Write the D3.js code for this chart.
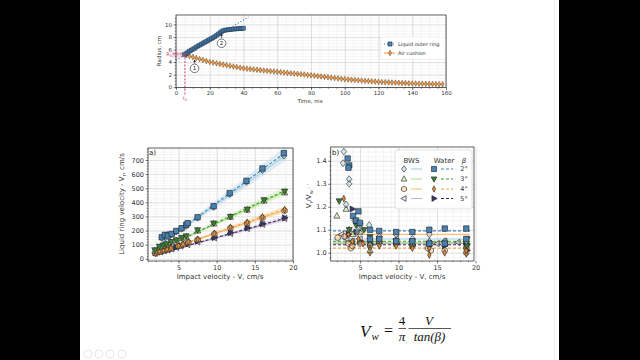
<!DOCTYPE html>
<html><head><meta charset="utf-8">
<script src="https://cdn.jsdelivr.net/npm/d3@7"></script>
<style>html,body{margin:0;padding:0;background:#000;overflow:hidden}svg{display:block}</style>
</head><body>
<svg id="c" width="640" height="360"></svg>
<script>
// ---------------- DATA ----------------
// Top chart: liquid outer ring radius and air cushion radius vs time
const ringT = [5,6,7,8,9,10,11,12,13,14,15,16,17,18,19,20,21,22,23,24,25,26,27,28,29,30,31,32,33,34,35,36,37,38,39,40];
const ringR = [5.20,5.35,5.55,5.75,5.90,6.05,6.20,6.40,6.55,6.70,6.85,7.00,7.15,7.30,7.45,7.60,7.75,7.90,8.05,8.25,8.45,8.65,8.85,9.00,9.08,9.12,9.16,9.20,9.22,9.25,9.28,9.30,9.32,9.34,9.36,9.38];
const ringFitT = [0, 43];
const ringFitR = [4.3, 11.2];
const airT = [6,8,10,12,14,16,18,20,22,24,26,28,30,32,34,36,38,40,42,44,46,48,50,52,54,56,58,60,62,64,66,68,70,72,74,76,78,80,82,84,86,88,90,92,94,96,98,100,102,104,106,108,110,112,114,116,118,120,122,124,126,128,130,132,134,136,138,140,142,144,146,148,150,152,154,156,158];
const airR = [5.10,4.95,4.80,4.64,4.49,4.35,4.17,4.02,3.92,3.81,3.70,3.60,3.50,3.40,3.30,3.20,3.10,3.00,2.95,2.89,2.83,2.78,2.72,2.66,2.61,2.55,2.50,2.44,2.39,2.33,2.28,2.22,2.17,2.12,2.06,2.01,1.95,1.90,1.84,1.77,1.71,1.65,1.59,1.52,1.46,1.40,1.34,1.28,1.23,1.19,1.14,1.10,1.06,1.02,0.98,0.93,0.89,0.85,0.82,0.80,0.77,0.74,0.72,0.69,0.66,0.64,0.61,0.59,0.58,0.56,0.55,0.53,0.52,0.50,0.49,0.47,0.46];
const t0 = 5.3, R0 = 5.3;
const annT = [11, 27], annR = [3.0, 7.0], annTip = [4.4, 8.6], annLabel = ["1", "2"];
const topXTicks = [0,20,40,60,80,100,120,140,160];
const topYTicks = [0,2,4,6,8,10];

// Chart a: liquid ring velocity vs impact velocity
const betaLabels = ["2°","3°","4°","5°"];
const a2V = [2.8,3.2,3.6,4.1,4.7,5.4,6.0,6.2,7.5,9.6,11.7,13.9,16.0,18.8];
const a2Water = [152,169,164,176,197,216,240,252,294,372,465,552,640,748];
const a2BWS = [148,160,170,172,192,212,232,246,290,366,458,545,628,730];
const a3V = [1.9,2.5,3.0,3.4,4.0,4.7,5.4,6.0,7.5,9.6,11.8,14.0,16.2,18.9];
const a3Water = [62,88,95,105,121,133,150,161,204,252,299,350,417,478];
const a3BWS = [56,80,90,100,115,128,142,155,198,248,296,346,410,468];
const a4V = [2.0,2.5,3.0,3.5,4.0,5.0,5.6,6.3,7.5,9.7,11.8,14.0,16.0,18.9];
const a4Water = [40,52,62,68,76,92,103,121,138,180,223,258,296,348];
const a4BWS = [38,48,58,65,72,90,100,116,135,176,218,252,290,340];
const a5V = [2.0,2.6,3.1,3.6,4.1,4.7,5.3,6.2,7.5,9.7,11.8,14.0,16.0,18.9];
const a5Water = [42,50,58,65,72,82,92,105,125,150,185,218,248,290];
const a5BWS = [40,48,56,62,70,80,90,100,120,148,180,214,244,286];
const aFitV = [1.6, 19.2];
const aSlopeWater = [39.6, 25.5, 18.6, 15.1];
const aSlopeBWS = [38.5, 25.0, 18.2, 14.8];
const aBandLo = [36.5, 23.8, 17.3, 14.0];
const aBandHi = [41.8, 26.9, 19.6, 15.9];
const aXTicks = [5,10,15,20];
const aYTicks = [0,100,200,300,400,500,600,700];

// Chart b: Vr/Vw vs impact velocity
const bBws2V = [2.9,2.8,3.6,3.6,3.2,4.3,4.6,5.0,6.2,6.3,7.5,9.7,11.8,14.0,16.0,18.8];
const bBws2R = [1.44,1.39,1.32,1.30,1.21,1.14,1.09,1.11,1.12,1.06,1.07,1.08,1.06,1.08,1.05,1.05];
const bWat2V = [3.4,3.6,3.5,4.1,4.8,4.5,5.0,6.3,6.3,7.5,7.5,9.7,9.7,11.8,11.8,14.0,14.0,16.0,16.0,18.8,18.8];
const bWat2R = [1.41,1.38,1.37,1.16,1.18,1.14,1.13,1.10,1.06,1.095,1.06,1.09,1.05,1.09,1.05,1.10,1.04,1.105,1.04,1.105,1.06];
const bBws3V = [2.0,3.2,3.6,4.1,5.0,6.3,6.3,7.5,9.7,11.8,14.0,16.0,18.8];
const bBws3R = [1.16,1.19,1.10,1.08,1.09,1.01,1.04,1.05,1.05,1.04,1.05,1.04,1.05];
const bWat3V = [2.3,3.6,4.5,5.0,5.5,6.3,7.5,9.7,11.8,14.0,16.0,18.9,18.9];
const bWat3R = [1.225,1.10,1.12,1.12,1.10,1.07,1.06,1.05,1.05,1.04,1.04,1.06,1.03];
const bBws4V = [2.1,3.0,3.5,3.8,4.0,5.0,6.3,7.5,9.7,11.8,13.8,14.2,16.0,18.8,18.8];
const bBws4R = [1.065,1.07,1.04,1.02,1.03,1.04,1.03,1.04,1.04,1.03,1.02,1.01,1.01,1.00,1.02];
const bWat4V = [2.9,3.5,4.0,4.8,5.4,6.3,6.3,7.5,9.7,11.8,14.0,14.0,16.0,18.8,18.8];
const bWat4R = [1.235,1.08,1.05,1.06,1.04,1.02,1.00,1.03,1.03,1.02,0.99,1.02,1.00,0.995,1.01];
const bBws5V = [2.6,3.3,4.0,5.0,6.3,7.5,9.7,11.8,14.0,15.0,16.0,17.7,18.8];
const bBws5R = [1.08,1.06,1.05,1.06,1.05,1.06,1.06,1.05,1.04,1.04,1.05,1.045,1.04];
const bWat5V = [4.0,3.5,4.5,5.0,6.3,7.5,9.7,11.8,14.0,16.0,18.8,18.9];
const bWat5R = [1.19,1.08,1.09,1.05,1.04,1.05,1.04,1.03,1.03,1.03,1.03,1.01];
const bFitV = [1.5, 19.3];
const bMeanWater = [1.095, 1.05, 1.02, 1.035];
const bMeanBWS = [1.06, 1.045, 1.08, 1.04];
const bXTicks = [5,10,15,20];
const bYTicks = [1.0,1.1,1.2,1.3,1.4];

// ---------------- STYLE ----------------
const FONT = "DejaVu Sans, sans-serif";
const styles = [
  {bws:"diamond", wat:"square", light:"#a6cee3", dark:"#4a82b4", line:"#3a86c0"},
  {bws:"up",      wat:"down",   light:"#b2df8a", dark:"#3f7d36", line:"#33a02c"},
  {bws:"hex",     wat:"thin",   light:"#fdbf6f", dark:"#e8893a", line:"#f2a24f"},
  {bws:"left",    wat:"right",  light:"#cab2d6", dark:"#3b3572", line:"#2b2b50"}
];

function shape(type, s) {
  let p;
  switch (type) {
    case "diamond": p = [[0,-s],[s*0.8,0],[0,s],[-s*0.8,0]]; break;
    case "thin": p = [[0,-s],[s*0.5,0],[0,s],[-s*0.5,0]]; break;
    case "square": { const q = s*0.8; p = [[-q,-q],[q,-q],[q,q],[-q,q]]; break; }
    case "up": p = [[0,-s],[s*0.9,s*0.65],[-s*0.9,s*0.65]]; break;
    case "down": p = [[0,s],[s*0.9,-s*0.65],[-s*0.9,-s*0.65]]; break;
    case "left": p = [[-s,0],[s*0.65,-s*0.9],[s*0.65,s*0.9]]; break;
    case "right": p = [[s,0],[-s*0.65,-s*0.9],[-s*0.65,s*0.9]]; break;
    case "hex": p = d3.range(6).map(i => [s*0.9*Math.sin(i*Math.PI/3), -s*0.9*Math.cos(i*Math.PI/3)]); break;
  }
  return "M" + p.map(d => d.map(v => v.toFixed(2)).join(",")).join("L") + "Z";
}

const svg = d3.select("#c");
svg.append("rect").attr("width",640).attr("height",360).attr("fill","#000");
svg.append("rect").attr("x",80).attr("y",0).attr("width",479).attr("height",360).attr("fill","#fff");
svg.append("line").attr("x1",554.5).attr("x2",554.5).attr("y1",0).attr("y2",360).attr("stroke","#f0f0f0");

function grid(g, x, y, c) {
  const [xl, xr] = x.range(), [yb, yt] = y.range();
  const w = xr - xl, h = yb - yt;
  const st = (col, sw) => s => { s.select(".domain").remove(); s.selectAll("line").attr("stroke", col).attr("stroke-width", sw); };
  g.append("g").attr("transform",`translate(0,${yb})`).call(d3.axisBottom(x).tickValues(c.xMinor).tickSize(-h).tickFormat("")).call(st("#ebebeb",0.5));
  g.append("g").attr("transform",`translate(${xl},0)`).call(d3.axisLeft(y).tickValues(c.yMinor).tickSize(-w).tickFormat("")).call(st("#ebebeb",0.5));
  g.append("g").attr("transform",`translate(0,${yb})`).call(d3.axisBottom(x).tickValues(c.xMajor).tickSize(-h).tickFormat("")).call(st("#d2d2d2",0.6));
  g.append("g").attr("transform",`translate(${xl},0)`).call(d3.axisLeft(y).tickValues(c.yMajor).tickSize(-w).tickFormat("")).call(st("#d2d2d2",0.6));
}
function axes(g, x, y, c) {
  const [xl, xr] = x.range(), [yb, yt] = y.range();
  g.append("rect").attr("x",xl).attr("y",yt).attr("width",xr-xl).attr("height",yb-yt).attr("fill","none").attr("stroke","#3a3a3a").attr("stroke-width",0.8);
  const st = s => { s.select(".domain").remove(); s.selectAll("line").attr("stroke","#3a3a3a").attr("stroke-width",0.6);
    s.selectAll("text").attr("font-size",c.fs).attr("font-family",FONT).attr("fill","#333"); };
  g.append("g").attr("transform",`translate(0,${yb})`).call(d3.axisBottom(x).tickValues(c.xMinor).tickSize(1.2).tickFormat("")).call(st);
  g.append("g").attr("transform",`translate(${xl},0)`).call(d3.axisLeft(y).tickValues(c.yMinor).tickSize(1.2).tickFormat("")).call(st);
  g.append("g").attr("transform",`translate(0,${yb})`).call(d3.axisBottom(x).tickValues(c.xMajor).tickSize(2.5).tickPadding(1.5).tickFormat(c.xFmt)).call(st);
  g.append("g").attr("transform",`translate(${xl},0)`).call(d3.axisLeft(y).tickValues(c.yMajor).tickSize(2.5).tickPadding(1.5).tickFormat(c.yFmt)).call(st);
}
function text(g, x, y, str, fs, opts = {}) {
  const t = g.append("text").attr("x",x).attr("y",y).attr("font-size",fs).attr("font-family",opts.family || FONT)
    .attr("fill",opts.fill || "#333").attr("text-anchor",opts.anchor || "middle").text(str);
  if (opts.rotate) t.attr("transform",`rotate(-90,${x},${y})`);
  if (opts.style) t.attr("font-style",opts.style);
  return t;
}

// ---------------- TOP CHART ----------------
{
  const x = d3.scaleLinear().domain([0,160]).range([176,446]);
  const y = d3.scaleLinear().domain([-0.05,11.5]).range([87.5,15]);
  const g = svg.append("g");
  grid(g, x, y, {xMinor:d3.range(0,161,5), yMinor:d3.range(0,11.5,0.5), xMajor:topXTicks, yMajor:topYTicks});
  // pink annotation region
  g.append("rect").attr("x",x(0)-4).attr("y",y(R0+0.35)).attr("width",x(t0)-x(0)+7).attr("height",y(R0-0.6)-y(R0+0.35))
    .attr("fill","#f6c3d2").attr("opacity",0.7);
  // ring fit dotted line
  g.append("line").attr("x1",x(ringFitT[0])).attr("y1",y(ringFitR[0])).attr("x2",x(ringFitT[1])).attr("y2",y(ringFitR[1]))
    .attr("stroke","#3a78b0").attr("stroke-width",1.1).attr("stroke-dasharray","1,2");
  // air cushion line + markers
  const airPts = airT.map((t,i)=>[t,airR[i]]);
  g.append("path").datum(airPts).attr("d",d3.line().x(d=>x(d[0])).y(d=>y(d[1]))).attr("fill","none").attr("stroke","#f2a24f").attr("stroke-width",1.2);
  g.append("g").selectAll("path").data(airPts).join("path")
    .attr("transform",d=>`translate(${x(d[0])},${y(d[1])})`).attr("d",shape("thin",2.8))
    .attr("fill","#f3a65a").attr("stroke","#5e3813").attr("stroke-width",0.5);
  // ring markers
  const ringPts = ringT.map((t,i)=>[t,ringR[i]]);
  g.append("g").selectAll("path").data(ringPts).join("path")
    .attr("transform",d=>`translate(${x(d[0])},${y(d[1])})`).attr("d",shape("square",2.4))
    .attr("fill","#4a7eab").attr("stroke","#1b2f47").attr("stroke-width",0.5);
  // t0 / R0 dashed lines
  g.append("line").attr("x1",x(0)-3).attr("x2",x(t0)).attr("y1",y(R0)).attr("y2",y(R0))
    .attr("stroke","#d2457a").attr("stroke-width",1).attr("stroke-dasharray","2,1.5");
  g.append("line").attr("x1",x(t0)).attr("x2",x(t0)).attr("y1",y(R0)).attr("y2",y(0)+9)
    .attr("stroke","#d2457a").attr("stroke-width",1).attr("stroke-dasharray","2,1.5");
  const r0t = text(g, x(0)-4, y(R0)+1.8, "R", 5, {anchor:"end", fill:"#d2457a"});
  r0t.append("tspan").attr("font-size",3.5).attr("dy",1).text("0");
  const t0t = text(g, x(t0), y(0)+13, "t", 5, {fill:"#c0506f"});
  t0t.append("tspan").attr("font-size",3.5).attr("dy",1).text("0");
  // annotations
  annT.forEach((t,i) => {
    g.append("line").attr("x1",x(t)).attr("x2",x(t)).attr("y1",y(annR[i])-4.8).attr("y2",y(annTip[i])+1)
      .attr("stroke","#222").attr("stroke-width",0.6);
    g.append("path").attr("d",`M${x(t)},${y(annTip[i])}l-1.3,2.5l2.6,0Z`).attr("fill","#222");
    g.append("circle").attr("cx",x(t)).attr("cy",y(annR[i])).attr("r",4.3).attr("fill","#fff").attr("stroke","#222").attr("stroke-width",0.6);
    text(g, x(t), y(annR[i])+1.9, annLabel[i], 5.5, {fill:"#222"});
  });
  axes(g, x, y, {xMinor:d3.range(0,161,5), yMinor:d3.range(0,11.5,0.5), xMajor:topXTicks, yMajor:topYTicks, fs:5.5, xFmt:d3.format("d"), yFmt:d3.format("d")});
  text(g, 310, 103, "Time, ms", 5.5);
  text(g, 161, 51, "Radius, cm", 5.5, {rotate:true});
  // legend
  const lg = g.append("g");
  lg.append("rect").attr("x",381).attr("y",37).attr("width",64).attr("height",22).attr("fill","#fff").attr("stroke","#e4e4e4").attr("stroke-width",0.5).attr("rx",1.5);
  lg.append("line").attr("x1",384).attr("x2",395).attr("y1",44).attr("y2",44).attr("stroke","#3a78b0").attr("stroke-width",1.1).attr("stroke-dasharray","1,2");
  lg.append("path").attr("transform","translate(390,44)").attr("d",shape("square",2.6)).attr("fill","#4a7eab").attr("stroke","#1b2f47").attr("stroke-width",0.5);
  text(lg, 398, 46, "Liquid outer ring", 5, {anchor:"start"});
  lg.append("line").attr("x1",384).attr("x2",395).attr("y1",53).attr("y2",53).attr("stroke","#f2a24f").attr("stroke-width",1.2);
  lg.append("path").attr("transform","translate(390,53)").attr("d",shape("thin",2.8)).attr("fill","#f3a65a").attr("stroke","#5e3813").attr("stroke-width",0.5);
  text(lg, 398, 55, "Air cushion", 5, {anchor:"start"});
}

// ---------------- CHART A ----------------
{
  const x = d3.scaleLinear().domain([1,20]).range([148,293]);
  const y = d3.scaleLinear().domain([-16,785]).range([261,148]);
  const g = svg.append("g");
  const cfg = {xMinor:d3.range(1,21,1), yMinor:d3.range(0,781,20), xMajor:aXTicks, yMajor:aYTicks, fs:6.5, xFmt:d3.format("d"), yFmt:d3.format("d")};
  grid(g, x, y, cfg);
  const clip = svg.append("clipPath").attr("id","clipA").append("rect").attr("x",148).attr("y",148).attr("width",145).attr("height",113);
  const pg = g.append("g").attr("clip-path","url(#clipA)");
  const aV = [a2V,a3V,a4V,a5V], aW = [a2Water,a3Water,a4Water,a5Water], aB = [a2BWS,a3BWS,a4BWS,a5BWS];
  // bands
  styles.forEach((s,i) => {
    const area = d3.area().x(v=>x(v)).y0(v=>y(v*aBandLo[i])).y1(v=>y(v*aBandHi[i]));
    pg.append("path").attr("d",area(aFitV)).attr("fill",s.light).attr("opacity",0.35);
  });
  styles.forEach((s,i) => {
    pg.append("line").attr("x1",x(aFitV[0])).attr("x2",x(aFitV[1])).attr("y1",y(aFitV[0]*aSlopeBWS[i])).attr("y2",y(aFitV[1]*aSlopeBWS[i]))
      .attr("stroke",s.light).attr("stroke-width",1.1);
    pg.append("line").attr("x1",x(aFitV[0])).attr("x2",x(aFitV[1])).attr("y1",y(aFitV[0]*aSlopeWater[i])).attr("y2",y(aFitV[1]*aSlopeWater[i]))
      .attr("stroke",s.line).attr("stroke-width",1.1).attr("stroke-dasharray","3,2");
  });
  styles.slice().reverse().forEach((s,ri) => {
    const i = 3 - ri;
    pg.append("g").selectAll("path").data(aV[i].map((v,k)=>[v,aB[i][k]])).join("path")
      .attr("transform",d=>`translate(${x(d[0])},${y(d[1])})`).attr("d",shape(s.bws,3.4))
      .attr("fill",s.light).attr("stroke","#1e1e1e").attr("stroke-width",0.6);
    pg.append("g").selectAll("path").data(aV[i].map((v,k)=>[v,aW[i][k]])).join("path")
      .attr("transform",d=>`translate(${x(d[0])},${y(d[1])})`).attr("d",shape(s.wat,3.4))
      .attr("fill",s.dark).attr("stroke","#1e1e1e").attr("stroke-width",0.6);
  });
  axes(g, x, y, cfg);
  text(g, 149, 155, "a)", 7, {anchor:"start", fill:"#222"});
  text(g, 220, 279, "Impact velocity - V, cm/s", 7);
  const yl = text(g, 124, 204, "Liquid ring velocity - V", 7, {rotate:true});
  yl.append("tspan").attr("font-size",5).attr("dy",1.5).text("r");
  yl.append("tspan").attr("dy",-1.5).text(", cm/s");
}

// ---------------- CHART B ----------------
{
  const x = d3.scaleLinear().domain([1.2,19.8]).range([330.7,474]);
  const y = d3.scaleLinear().domain([0.964,1.46]).range([261,147]);
  const g = svg.append("g");
  const cfg = {xMinor:d3.range(2,20,1), yMinor:d3.range(0.98,1.46,0.02), xMajor:bXTicks, yMajor:bYTicks, fs:6.5, xFmt:d3.format("d"), yFmt:d3.format(".1f")};
  grid(g, x, y, cfg);
  svg.append("clipPath").attr("id","clipB").append("rect").attr("x",330.7).attr("y",147).attr("width",143.3).attr("height",114);
  const pg = g.append("g").attr("clip-path","url(#clipB)");
  styles.forEach((s,i) => {
    pg.append("line").attr("x1",x(bFitV[0])).attr("x2",x(bFitV[1])).attr("y1",y(bMeanBWS[i])).attr("y2",y(bMeanBWS[i]))
      .attr("stroke",s.light).attr("stroke-width",1.1);
    pg.append("line").attr("x1",x(bFitV[0])).attr("x2",x(bFitV[1])).attr("y1",y(bMeanWater[i])).attr("y2",y(bMeanWater[i]))
      .attr("stroke",s.line).attr("stroke-width",1.1).attr("stroke-dasharray","3,2");
  });
  const bBV = [bBws2V,bBws3V,bBws4V,bBws5V], bBR = [bBws2R,bBws3R,bBws4R,bBws5R];
  const bWV = [bWat2V,bWat3V,bWat4V,bWat5V], bWR = [bWat2R,bWat3R,bWat4R,bWat5R];
  styles.slice().reverse().forEach((s,ri) => {
    const i = 3 - ri;
    pg.append("g").selectAll("path").data(bBV[i].map((v,k)=>[v,bBR[i][k]])).join("path")
      .attr("transform",d=>`translate(${x(d[0])},${y(d[1])})`).attr("d",shape(s.bws,3.4))
      .attr("fill",s.light).attr("fill-opacity",0.45).attr("stroke","#1e1e1e").attr("stroke-width",0.6);
    pg.append("g").selectAll("path").data(bWV[i].map((v,k)=>[v,bWR[i][k]])).join("path")
      .attr("transform",d=>`translate(${x(d[0])},${y(d[1])})`).attr("d",shape(s.wat,3.4))
      .attr("fill",s.dark).attr("stroke","#1e1e1e").attr("stroke-width",0.6);
  });
  axes(g, x, y, cfg);
  text(g, 332, 155, "b)", 7, {anchor:"start", fill:"#222"});
  text(g, 402, 279, "Impact velocity - V, cm/s", 7);
  const yl = text(g, 311, 196, "V", 7, {rotate:true});
  yl.append("tspan").attr("font-size",5).attr("dy",1.5).text("r");
  yl.append("tspan").attr("dy",-1.5).text("/V");
  yl.append("tspan").attr("font-size",5).attr("dy",1.5).text("w");
  yl.append("tspan").attr("font-size",5).attr("dy",-4).text(" , -");
  // legend
  const lg = g.append("g");
  lg.append("rect").attr("x",395).attr("y",150).attr("width",77).attr("height",59).attr("rx",2)
    .attr("fill","#fff").attr("fill-opacity",0.85).attr("stroke","#cfcfcf").attr("stroke-width",0.6);
  text(lg, 411.5, 163, "BWS", 7);
  text(lg, 444, 163, "Water", 7);
  text(lg, 464, 163, "β", 7, {style:"italic"});
  const rowsY = [169, 179, 189, 198.5];
  styles.forEach((s,i) => {
    const ry = rowsY[i];
    lg.append("path").attr("transform",`translate(404,${ry})`).attr("d",shape(s.bws,3.2))
      .attr("fill",s.light).attr("fill-opacity",0.45).attr("stroke","#1e1e1e").attr("stroke-width",0.6);
    lg.append("line").attr("x1",411).attr("x2",422).attr("y1",ry).attr("y2",ry).attr("stroke",s.light).attr("stroke-width",1.1);
    lg.append("path").attr("transform",`translate(434,${ry})`).attr("d",shape(s.wat,3.2))
      .attr("fill",s.dark).attr("stroke","#1e1e1e").attr("stroke-width",0.6);
    lg.append("line").attr("x1",441).attr("x2",453).attr("y1",ry).attr("y2",ry).attr("stroke",s.line).attr("stroke-width",1.1).attr("stroke-dasharray","3,2");
    text(lg, 464, ry+2.4, betaLabels[i], 6.5);
  });
}

// ---------------- EQUATION ----------------
{
  const g = svg.append("g").attr("font-family","Liberation Serif, DejaVu Serif, serif").attr("fill","#111");
  g.append("text").attr("x",360).attr("y",337).attr("font-size",17).attr("font-style","italic").text("V");
  g.append("text").attr("x",371.5).attr("y",340).attr("font-size",11).attr("font-style","italic").text("w");
  g.append("text").attr("x",384).attr("y",336).attr("font-size",16).text("=");
  g.append("text").attr("x",402).attr("y",325).attr("font-size",13).attr("text-anchor","middle").text("4");
  g.append("line").attr("x1",398.5).attr("x2",406).attr("y1",328.5).attr("y2",328.5).attr("stroke","#111").attr("stroke-width",0.7);
  g.append("text").attr("x",402).attr("y",341).attr("font-size",13).attr("font-style","italic").attr("text-anchor","middle").text("π");
  g.append("text").attr("x",429).attr("y",325).attr("font-size",13).attr("font-style","italic").attr("text-anchor","middle").text("V");
  g.append("line").attr("x1",408.5).attr("x2",451).attr("y1",328.5).attr("y2",328.5).attr("stroke","#111").attr("stroke-width",0.7);
  g.append("text").attr("x",429.5).attr("y",341).attr("font-size",13).attr("font-style","italic").attr("text-anchor","middle").text("tan(β)");
}
// slide controls (faint)
[88, 99, 110, 122].forEach(cx => {
  svg.append("circle").attr("cx",cx).attr("cy",354).attr("r",4).attr("fill","none").attr("stroke","#e0e0e0").attr("stroke-width",0.8);
});
</script>
</body></html>
